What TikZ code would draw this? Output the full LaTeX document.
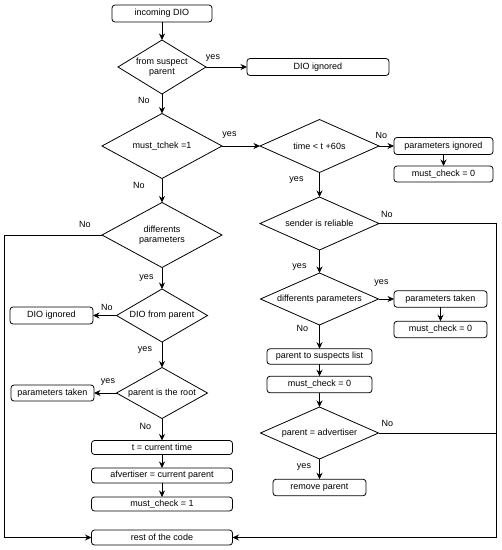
\documentclass[tikz,border=0pt]{standalone}
\usepackage{fontspec}
\setmainfont{Liberation Sans}
\usetikzlibrary{shapes.geometric,arrows.meta}
\begin{document}
\begin{tikzpicture}[x=1pt,y=-1pt,line width=0.8pt,
  font=\fontsize{9}{10.5}\selectfont,
  box/.style={draw,rounded corners=3pt,inner sep=0pt,outer sep=0pt,align=center},
  dec/.style={draw,diamond,inner sep=0pt,outer sep=0pt,align=center},
  arr/.style={-{Stealth[length=6.5pt,width=6pt]}},
  lbl/.style={inner sep=0pt}
]
\path[fill=white,use as bounding box] (0,0) rectangle (502,550);
\coordinate (lc) at (4,0);
\coordinate (rc) at (496,0);

% left column
\node[box,minimum width=100pt,minimum height=17pt] (in) at (162,13.5) {incoming DIO};
\node[dec,minimum width=88pt,minimum height=54pt,aspect=1.63] (d1) at (162,67) {from suspect\\parent};
\node[box,minimum width=142pt,minimum height=17pt] (ign1) at (318,67) {DIO ignored};
\node[dec,minimum width=120pt,minimum height=65pt,aspect=1.85] (d2) at (162,146) {must\_tchek =1};
\node[dec,minimum width=120pt,minimum height=65pt,aspect=1.85] (d5) at (162,235) {differents\\parameters};
\node[dec,minimum width=91pt,minimum height=53pt,aspect=1.72] (d6) at (162,315.5) {DIO from parent};
\node[box,minimum width=83pt,minimum height=17pt] (ign2) at (51.5,315.5) {DIO ignored};
\node[dec,minimum width=91pt,minimum height=51pt,aspect=1.78] (d7) at (162,393) {parent is the root};
\node[box,minimum width=83pt,minimum height=16pt] (pt1) at (52.5,393) {parameters taken};
\node[box,minimum width=141pt,minimum height=14pt] (tct) at (162,447.5) {t = current time};
\node[box,minimum width=141pt,minimum height=15pt] (adv) at (162,475.5) {afvertiser = current parent};
\node[box,minimum width=141pt,minimum height=14pt] (mc1) at (162,504) {must\_check = 1};
\node[box,minimum width=141pt,minimum height=15pt] (rest) at (162,537.5) {rest of the code};

% right column
\node[dec,minimum width=119pt,minimum height=53pt,aspect=2.25] (d3) at (319.5,146) {time {\char`\<} t +60s};
\node[box,minimum width=99pt,minimum height=17pt] (pign) at (443.5,146) {parameters ignored};
\node[box,minimum width=99pt,minimum height=16pt] (mc0a) at (443.5,174) {must\_check = 0};
\node[dec,minimum width=119pt,minimum height=53pt,aspect=2.25] (d4) at (319.5,223.5) {sender is reliable};
\node[dec,minimum width=118pt,minimum height=52pt,aspect=2.27] (d8) at (319.5,299) {differents parameters};
\node[box,minimum width=93pt,minimum height=16.5pt] (pt2) at (440.5,299) {parameters taken};
\node[box,minimum width=93pt,minimum height=16.5pt] (mc0b) at (440.5,329.5) {must\_check = 0};
\node[box,minimum width=105pt,minimum height=15.5pt] (sus) at (319.5,356.5) {parent to suspects list};
\node[box,minimum width=105pt,minimum height=16.5pt] (mc0c) at (319.5,384.5) {must\_check = 0};
\node[dec,minimum width=118pt,minimum height=52pt,aspect=2.27] (d9) at (319.5,433) {parent = advertiser};
\node[box,minimum width=93pt,minimum height=16.5pt] (rem) at (319.5,487.5) {remove parent};

% labels
\node[lbl] (l1) at (213,58) {yes};
\node[lbl] (l2) at (144,100) {No};
\node[lbl] (l3) at (229.5,135) {yes};
\node[lbl] (l4) at (381.5,135) {No};
\node[lbl] (l5) at (296.5,180) {yes};
\node[lbl] (l6) at (139,185) {No};
\node[lbl] (l7) at (85,224) {No};
\node[lbl] (l8) at (387,214) {No};
\node[lbl] (l9) at (299.5,267) {yes};
\node[lbl] (l10) at (146.5,278) {yes};
\node[lbl] (l11) at (107,307) {No};
\node[lbl] (l12) at (145,350) {yes};
\node[lbl] (l13) at (108,382) {yes};
\node[lbl] (l14) at (145.5,426) {No};
\node[lbl] (l15) at (381.5,283) {yes};
\node[lbl] (l16) at (302.5,328) {No};
\node[lbl] (l17) at (387.5,423) {No};
\node[lbl] (l18) at (304,467) {yes};

% connectors
\draw[arr] (in) -- (d1);
\draw[arr] (d1.east) -- (d1.east -| ign1.west);
\draw[arr] (d1) -- (d2);
\draw[arr] (d2.east) -- (d2.east -| d3.west);
\draw[arr] (d3.east) -- (d3.east -| pign.west);
\draw[arr] (pign) -- (mc0a);
\draw[arr] (d3) -- (d4);
\draw[arr] (d2) -- (d5);
\draw[arr] (d5.west) -- (d5.west -| lc) |- (rest.west);
\draw[arr] (d5) -- (d6);
\draw[arr] (d6.west) -- (d6.west -| ign2.east);
\draw[arr] (d6) -- (d7);
\draw[arr] (d7.west) -- (d7.west -| pt1.east);
\draw[arr] (d7) -- (tct);
\draw[arr] (tct) -- (adv);
\draw[arr] (adv) -- (mc1);
\draw[arr] (d4.east) -- (d4.east -| rc) |- (rest.east);
\draw[arr] (d4) -- (d8);
\draw[arr] (d8.east) -- (d8.east -| pt2.west);
\draw[arr] (pt2) -- (mc0b);
\draw[arr] (d8) -- (sus);
\draw[arr] (sus) -- (mc0c);
\draw[arr] (mc0c) -- (d9);
\draw (d9.east) -- (d9.east -| rc);
\draw[arr] (d9) -- (rem);
\end{tikzpicture}
\end{document}
